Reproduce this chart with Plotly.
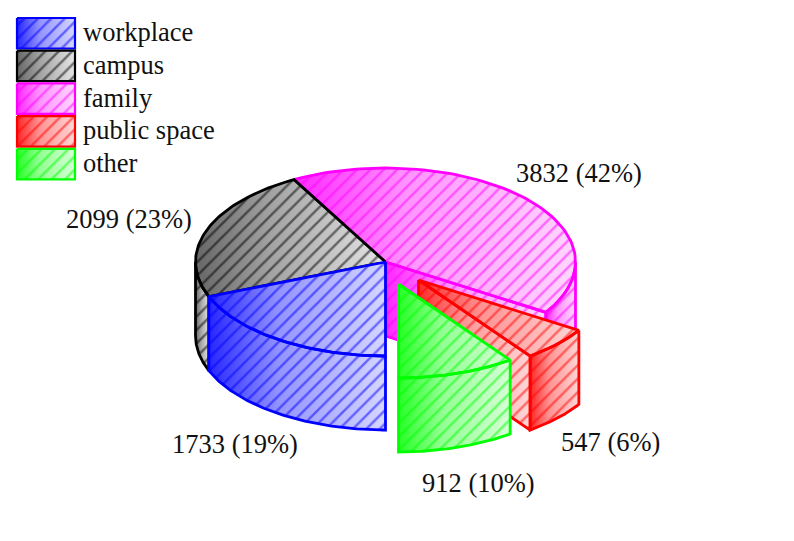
import numpy as np
import plotly.graph_objects as go

categories = ["workplace", "campus", "family", "public space", "other"]
values = [1733, 2099, 3832, 547, 912]

# styling and projection
colors = {"workplace": (0, 0, 255), "campus": (0, 0, 0), "family": (255, 0, 255),
          "public space": (255, 0, 0), "other": (0, 255, 0)}
offsets = {"workplace": (0, 0), "campus": (0, 0), "family": (0, 0),
           "public space": (33, 18), "other": (13, 22)}
label_pos = {"workplace": (235, 444), "campus": (129, 219), "family": (579, 173),
             "public space": (610, 442), "other": (478, 483)}
CX, CY, RX, RY, H = 385.5, 262, 190, 94, 74
FONT = "Liberation Serif"
total = sum(values)
fig = go.Figure()


def rgba(c, a):
    return f"rgba({c[0]},{c[1]},{c[2]},{a})"


def under(x, y):
    fig.add_trace(go.Scatter(x=x, y=y, mode="lines", fill="toself", fillcolor="white",
                             line=dict(width=0), hoverinfo="skip", showlegend=False))


def over(x, y, c, name, lw=2.8):
    black = c == (0, 0, 0)
    stops = [[0, rgba(c, 0.6 if black else 0.85)],
             [0.4, rgba(c, 0.36 if black else 0.42)],
             [1, rgba(c, 0.1 if black else 0.16)]]
    fig.add_trace(go.Scatter(x=x, y=y, mode="lines", fill="toself",
                             fillgradient=dict(type="horizontal", colorscale=stops),
                             line=dict(width=0), hoverinfo="skip", showlegend=False))
    fig.add_trace(go.Scatter(x=x, y=y, mode="lines", fill="toself", name=name,
                             fillcolor="rgba(0,0,0,0)",
                             fillpattern=dict(shape="/", size=9.5, solidity=0.26,
                                              fgcolor=rgba(c, 1), bgcolor="rgba(0,0,0,0)"),
                             line=dict(color=rgba(c, 1), width=lw), showlegend=False))


def rim(t1, t2, ox, oy, dz=0):
    t = np.radians(np.linspace(t1, t2, 80))
    return CX + ox - RX * np.sin(t), CY + oy + RY * np.cos(t) + dz


starts = np.cumsum([0] + values[:-1]) / total * 360
ends = np.cumsum(values) / total * 360
faces = {}
for name, t1, t2 in zip(categories, starts, ends):
    ox, oy = offsets[name]
    fl = []
    # radial wall on the trailing edge, for slices on the right side that face the viewer
    if name in ("family", "public space"):
        rx, ry = rim(t2, t2, ox, oy)
        ax, ay = CX + ox, CY + oy
        fl.append(([ax, rx[0], rx[0], ax, ax], [ay, ry[0], ry[0] + H, ay + H, ay]))
    # outer wall: only the front of the ellipse is seen
    a, b = t1, t2
    if t1 < 90:
        b = min(t2, 90)
    else:
        a = max(t1, 270)
    if b > a:
        xt, yt = rim(a, b, ox, oy)
        xb, yb = rim(a, b, ox, oy, H)
        fl.append((np.r_[xt, xb[::-1], xt[0]], np.r_[yt, yb[::-1], yt[0]]))
    # top
    xt, yt = rim(t1, t2, ox, oy)
    fl.append((np.r_[CX + ox, xt, CX + ox], np.r_[CY + oy, yt, CY + oy]))
    faces[name] = fl

for name in ["family", "campus", "workplace", "public space", "other"]:
    for x, y in faces[name]:
        under(x, y)
    for x, y in faces[name]:
        over(x, y, colors[name], name)

annotations = []
for name, v in zip(categories, values):
    lx, ly = label_pos[name]
    annotations.append(dict(x=lx, y=ly, text=f"{v} ({round(100 * v / total)}%)", showarrow=False,
                            xanchor="center", yanchor="middle",
                            font=dict(family=FONT, size=26.5, color="#111")))

# legend block
LX0, LX1, LY0, LH, LP = 17, 75, 18, 30.5, 32.7
for i, name in enumerate(categories):
    top = LY0 + i * LP
    x = [LX0, LX1, LX1, LX0, LX0]
    y = [top, top, top + LH, top + LH, top]
    under(x, y)
    over(x, y, colors[name], name, 2.2)
    annotations.append(dict(x=81, y=top + LH / 2 - 1, text=name, showarrow=False,
                            xanchor="left", yanchor="middle",
                            font=dict(family=FONT, size=26.5, color="#111")))

# the page adds an 8px body margin, so the plot area starts at pixel 8
PAGE = 8
fig.update_layout(width=794 - PAGE, height=541 - PAGE, margin=dict(l=0, r=0, t=0, b=0),
                  paper_bgcolor="white", plot_bgcolor="white", showlegend=False,
                  annotations=annotations,
                  xaxis=dict(range=[PAGE, 794], visible=False, fixedrange=True),
                  yaxis=dict(range=[541, PAGE], visible=False, fixedrange=True))
fig.write_html("out.html", config=dict(displayModeBar=False))
